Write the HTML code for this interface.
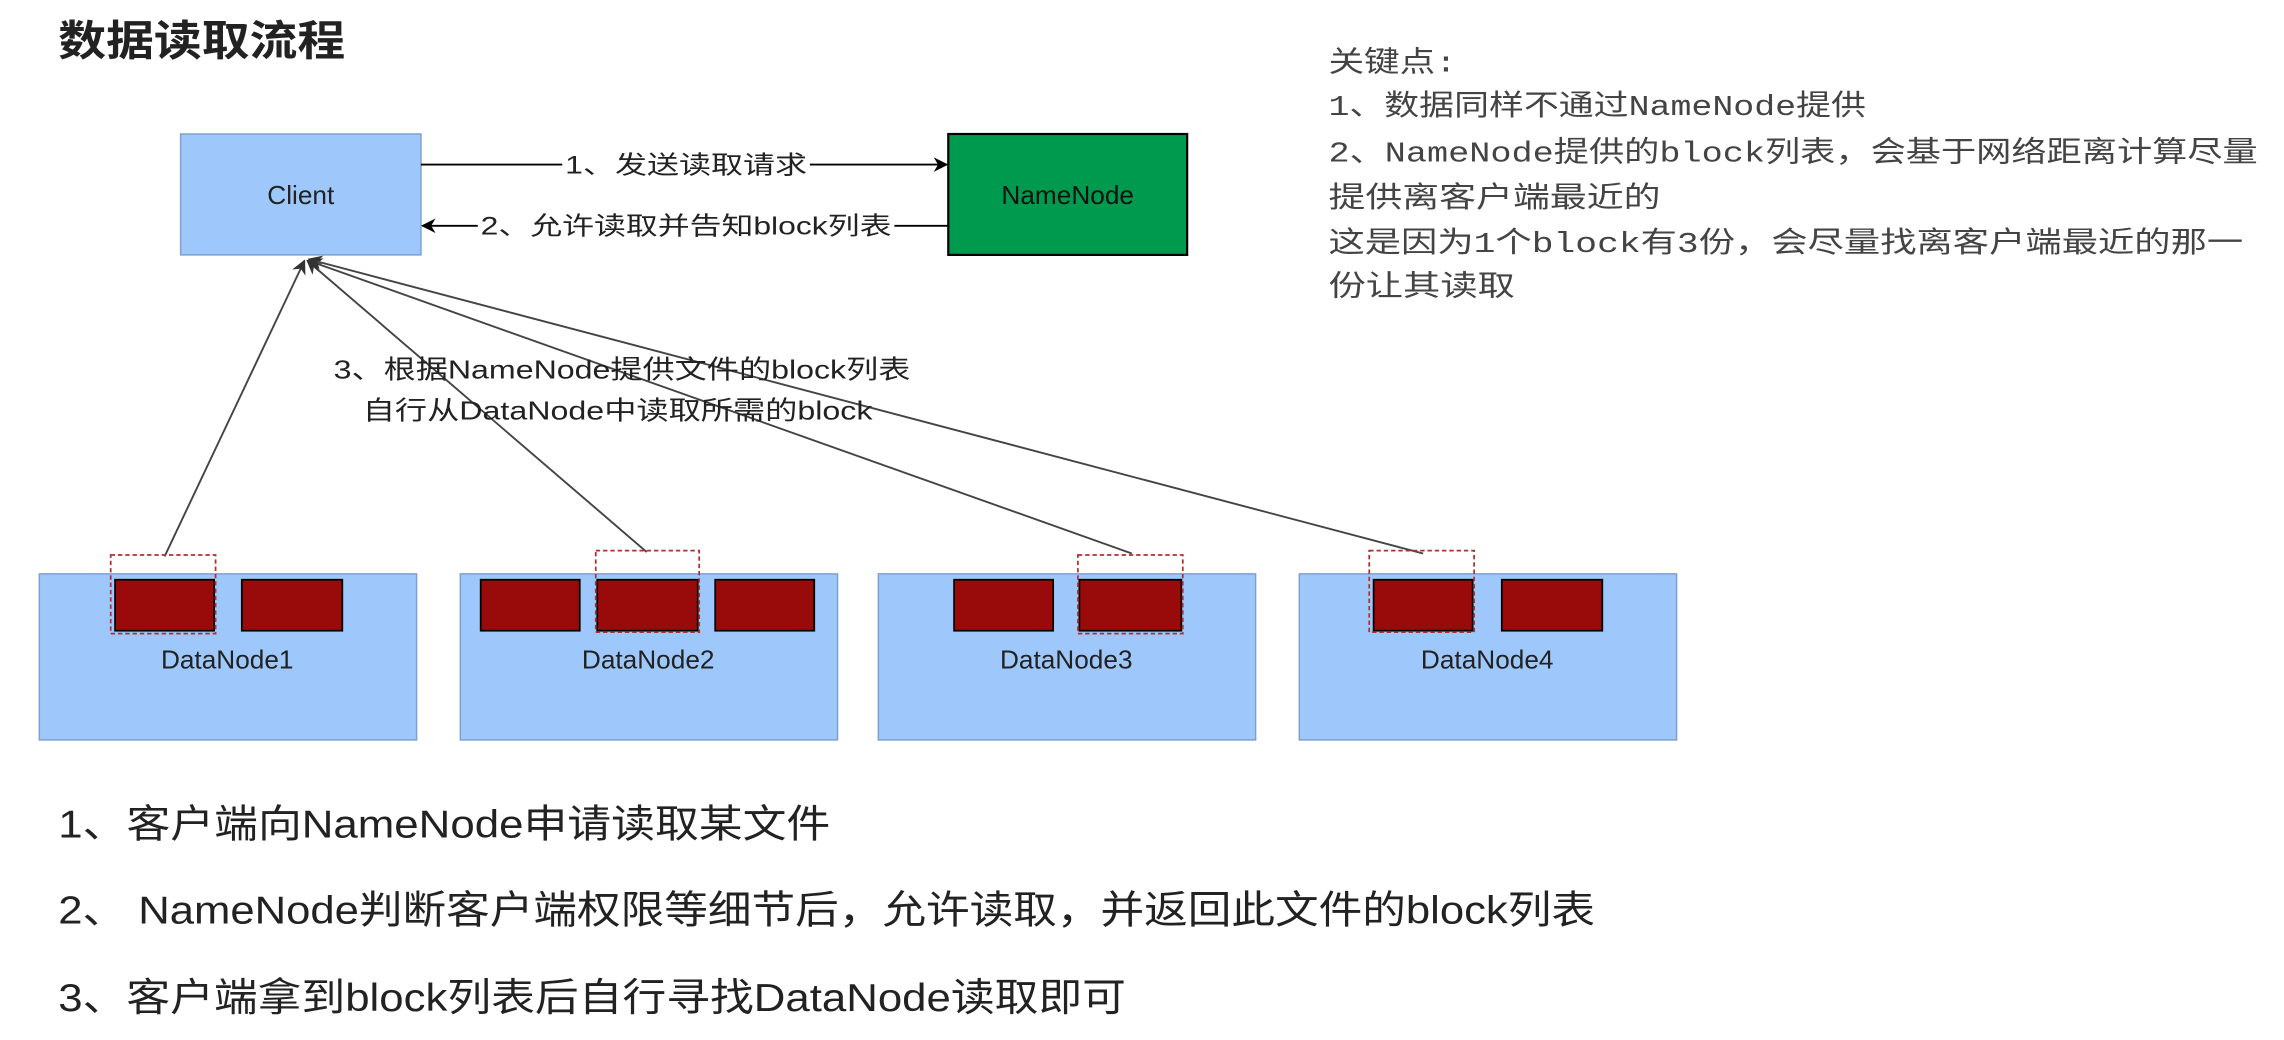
<!DOCTYPE html>
<html><head><meta charset="utf-8"><style>
html,body{margin:0;padding:0;background:#fff;}
svg{display:block;}
text{font-family:"Liberation Sans","Noto Sans CJK SC",sans-serif;}
.m{font-family:"Liberation Mono","Noto Sans CJK SC",monospace;fill:#444;}
</style></head><body>
<svg width="2284" height="1040" viewBox="0 0 1568 714" preserveAspectRatio="none" xmlns="http://www.w3.org/2000/svg">
<defs>
<marker id="ah" markerWidth="10" markerHeight="10" refX="9" refY="5" orient="auto" markerUnits="userSpaceOnUse">
<path d="M0,0 L10,5 L0,10 L3,5 Z" fill="#000"/></marker>
<marker id="ag" markerWidth="10" markerHeight="10" refX="9" refY="5" orient="auto" markerUnits="userSpaceOnUse">
<path d="M0,0 L10,5 L0,10 L3,5 Z" fill="#333"/></marker>
</defs>
<text x="40" y="38" font-size="29" font-weight="bold" fill="#222" textLength="197" lengthAdjust="spacingAndGlyphs">数据读取流程</text>

<rect x="124" y="92" width="165" height="83" fill="#9ec8fb" stroke="#7c9fd0"/>
<text x="206.5" y="140" font-size="18" text-anchor="middle" fill="#222">Client</text>
<rect x="651" y="92" width="164" height="83" fill="#009a4e" stroke="#000" stroke-width="1.5"/>
<text x="733" y="140" font-size="18" text-anchor="middle" fill="#111">NameNode</text>

<line x1="289" y1="113" x2="650" y2="113" stroke="#000" stroke-width="1.3" marker-end="url(#ah)"/>
<rect x="386" y="103" width="170" height="20" fill="#fff"/>
<text x="388" y="119" font-size="17" fill="#222" textLength="166" lengthAdjust="spacingAndGlyphs">1、发送读取请求</text>
<line x1="651" y1="155" x2="290" y2="155" stroke="#000" stroke-width="1.3" marker-end="url(#ah)"/>
<rect x="328" y="145" width="286" height="20" fill="#fff"/>
<text x="330" y="161" font-size="17" fill="#222" textLength="282" lengthAdjust="spacingAndGlyphs">2、允许读取并告知block列表</text>

<g stroke="#444" stroke-width="1.3" fill="none">
<line x1="113" y1="382" x2="209" y2="179" marker-end="url(#ag)"/>
<line x1="444" y1="379" x2="211" y2="179" marker-end="url(#ag)"/>
<line x1="777" y1="380" x2="212" y2="179" marker-end="url(#ag)"/>
<line x1="977" y1="380" x2="212" y2="178" marker-end="url(#ag)"/>
</g>
<text x="229" y="260" font-size="18" fill="#222" textLength="396" lengthAdjust="spacingAndGlyphs">3、根据NameNode提供文件的block列表</text>
<text x="249" y="288" font-size="18" fill="#222" textLength="350" lengthAdjust="spacingAndGlyphs">自行从DataNode中读取所需的block</text>

<g fill="#9ec8fb" stroke="#7c9fd0">
<rect x="27" y="394" width="259" height="114"/>
<rect x="316" y="394" width="259" height="114"/>
<rect x="603" y="394" width="259" height="114"/>
<rect x="892" y="394" width="259" height="114"/>
</g>
<g fill="#990b0b" stroke="#000" stroke-width="1.2">
<rect x="79" y="398" width="68" height="35"/>
<rect x="166" y="398" width="69" height="35"/>
<rect x="330" y="398" width="68" height="35"/>
<rect x="410" y="398" width="69" height="35"/>
<rect x="491" y="398" width="68" height="35"/>
<rect x="655" y="398" width="68" height="35"/>
<rect x="741" y="398" width="70" height="35"/>
<rect x="943" y="398" width="68" height="35"/>
<rect x="1031" y="398" width="69" height="35"/>
</g>
<g fill="none" stroke="#b03030" stroke-width="1.2" stroke-dasharray="3,2">
<rect x="76" y="381" width="72" height="54"/>
<rect x="409" y="378" width="71" height="56"/>
<rect x="740" y="381" width="72" height="54"/>
<rect x="940" y="378" width="72" height="56"/>
</g>
<g font-size="18" fill="#222" text-anchor="middle">
<text x="156" y="459">DataNode1</text>
<text x="445" y="459">DataNode2</text>
<text x="732" y="459">DataNode3</text>
<text x="1021" y="459">DataNode4</text>
</g>

<g font-size="27" fill="#222">
<text x="40" y="575" textLength="530" lengthAdjust="spacingAndGlyphs">1、客户端向NameNode申请读取某文件</text>
<text x="40" y="634" textLength="1055" lengthAdjust="spacingAndGlyphs">2、 NameNode判断客户端权限等细节后，允许读取，并返回此文件的block列表</text>
<text x="40" y="694" textLength="733" lengthAdjust="spacingAndGlyphs">3、客户端拿到block列表后自行寻找DataNode读取即可</text>
</g>

<g font-size="20" class="m">
<text class="m" x="912" y="49" textLength="88" lengthAdjust="spacingAndGlyphs">关键点:</text>
<text class="m" x="912" y="79" textLength="369" lengthAdjust="spacingAndGlyphs">1、数据同样不通过NameNode提供</text>
<text class="m" x="912" y="111" textLength="638" lengthAdjust="spacingAndGlyphs">2、NameNode提供的block列表，会基于网络距离计算尽量</text>
<text class="m" x="912" y="142" textLength="228" lengthAdjust="spacingAndGlyphs">提供离客户端最近的</text>
<text class="m" x="912" y="173" textLength="628" lengthAdjust="spacingAndGlyphs">这是因为1个block有3份，会尽量找离客户端最近的那一</text>
<text class="m" x="912" y="203" textLength="128" lengthAdjust="spacingAndGlyphs">份让其读取</text>
</g>
</svg>
</body></html>
